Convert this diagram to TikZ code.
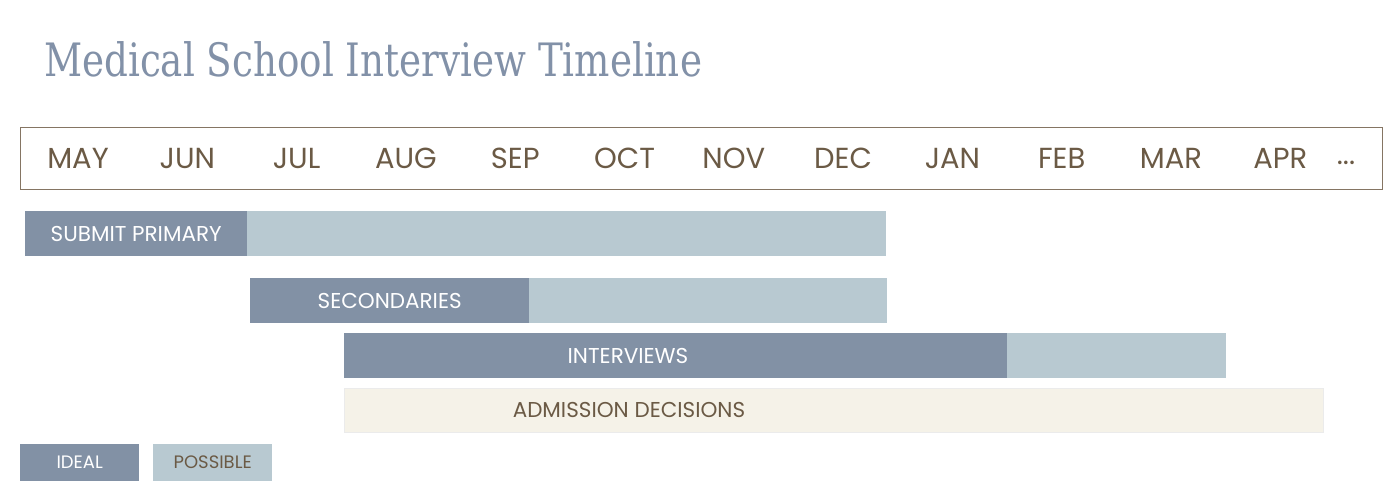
\documentclass[tikz,border=0pt]{standalone}
\usepackage{fontspec}
\setmainfont{Poppins}
\newfontfamily\titlefont{DejaVu Serif Condensed}
\definecolor{ideal}{HTML}{8291A5}
\definecolor{possible}{HTML}{B8C9D1}
\definecolor{cream}{HTML}{F5F2E8}
\definecolor{brown}{HTML}{6B5A45}
\definecolor{titlec}{HTML}{8291A8}
\definecolor{frame}{HTML}{857563}
\tikzset{
  month/.style={text=brown, font=\fontsize{29}{32}\selectfont, anchor=center, inner sep=0},
  idealbar/.style={fill=ideal, draw=none, anchor=north west, inner sep=0, text=white, font=\fontsize{21.5}{24}\selectfont, minimum height=45},
  possbar/.style={fill=possible, draw=none, anchor=north west, inner sep=0, minimum height=45},
  bartext/.style={inner sep=0, font=\fontsize{21.5}{24}\selectfont},
  legendbox/.style={anchor=north west, inner sep=0, minimum width=119, minimum height=37, font=\fontsize{18}{20}\selectfont},
}
\begin{document}
\begin{tikzpicture}[x=1pt,y=-1pt]
\useasboundingbox (0,0) rectangle (1400,500);
\fill[white] (0,0) rectangle (1400,500);
\node[anchor=base west, inner sep=0, text=titlec, font=\titlefont\fontsize{46}{50}\selectfont, xscale=0.9] (title) at (44,77) {Medical School Interview Timeline};
\node[draw=frame, line width=1pt, anchor=north west, minimum width=1362, minimum height=62, inner sep=0] (header) at (20,127) {};
\foreach \m [count=\i from 0] in {MAY,JUN,JUL,AUG,SEP,OCT,NOV,DEC,JAN,FEB,MAR,APR} {
  \node[month] (m\i) at (78+109.3*\i,158) {\m};
}
\node[month] (dots) at (1346,163) {...};
% bar 1
\node[idealbar, minimum width=222] (sp) at (25,211) {SUBMIT PRIMARY};
\node[possbar, minimum width=639] (spp) at (247,211) {};
% bar 2
\node[idealbar, minimum width=279] (sec) at (250,278) {SECONDARIES};
\node[possbar, minimum width=358] (secp) at (529,278) {};
% bar 3
\node[idealbar, minimum width=663] (int) at (344,333) {};
\node[possbar, minimum width=219] (intp) at (1007,333) {};
\node[bartext, text=white] (intt) at (628,355.5) {INTERVIEWS};
% bar 4
\node[fill=cream, draw=black!8, line width=0.6pt, anchor=north west, inner sep=0, minimum width=979, minimum height=44] (adm) at (344,388) {};
\node[bartext, text=brown] (admt) at (629,410) {ADMISSION DECISIONS};
% legend
\node[legendbox, fill=ideal, text=white] (lideal) at (20,444) {IDEAL};
\node[legendbox, fill=possible, text=brown] (lposs) at (153,444) {POSSIBLE};
\end{tikzpicture}
\end{document}
